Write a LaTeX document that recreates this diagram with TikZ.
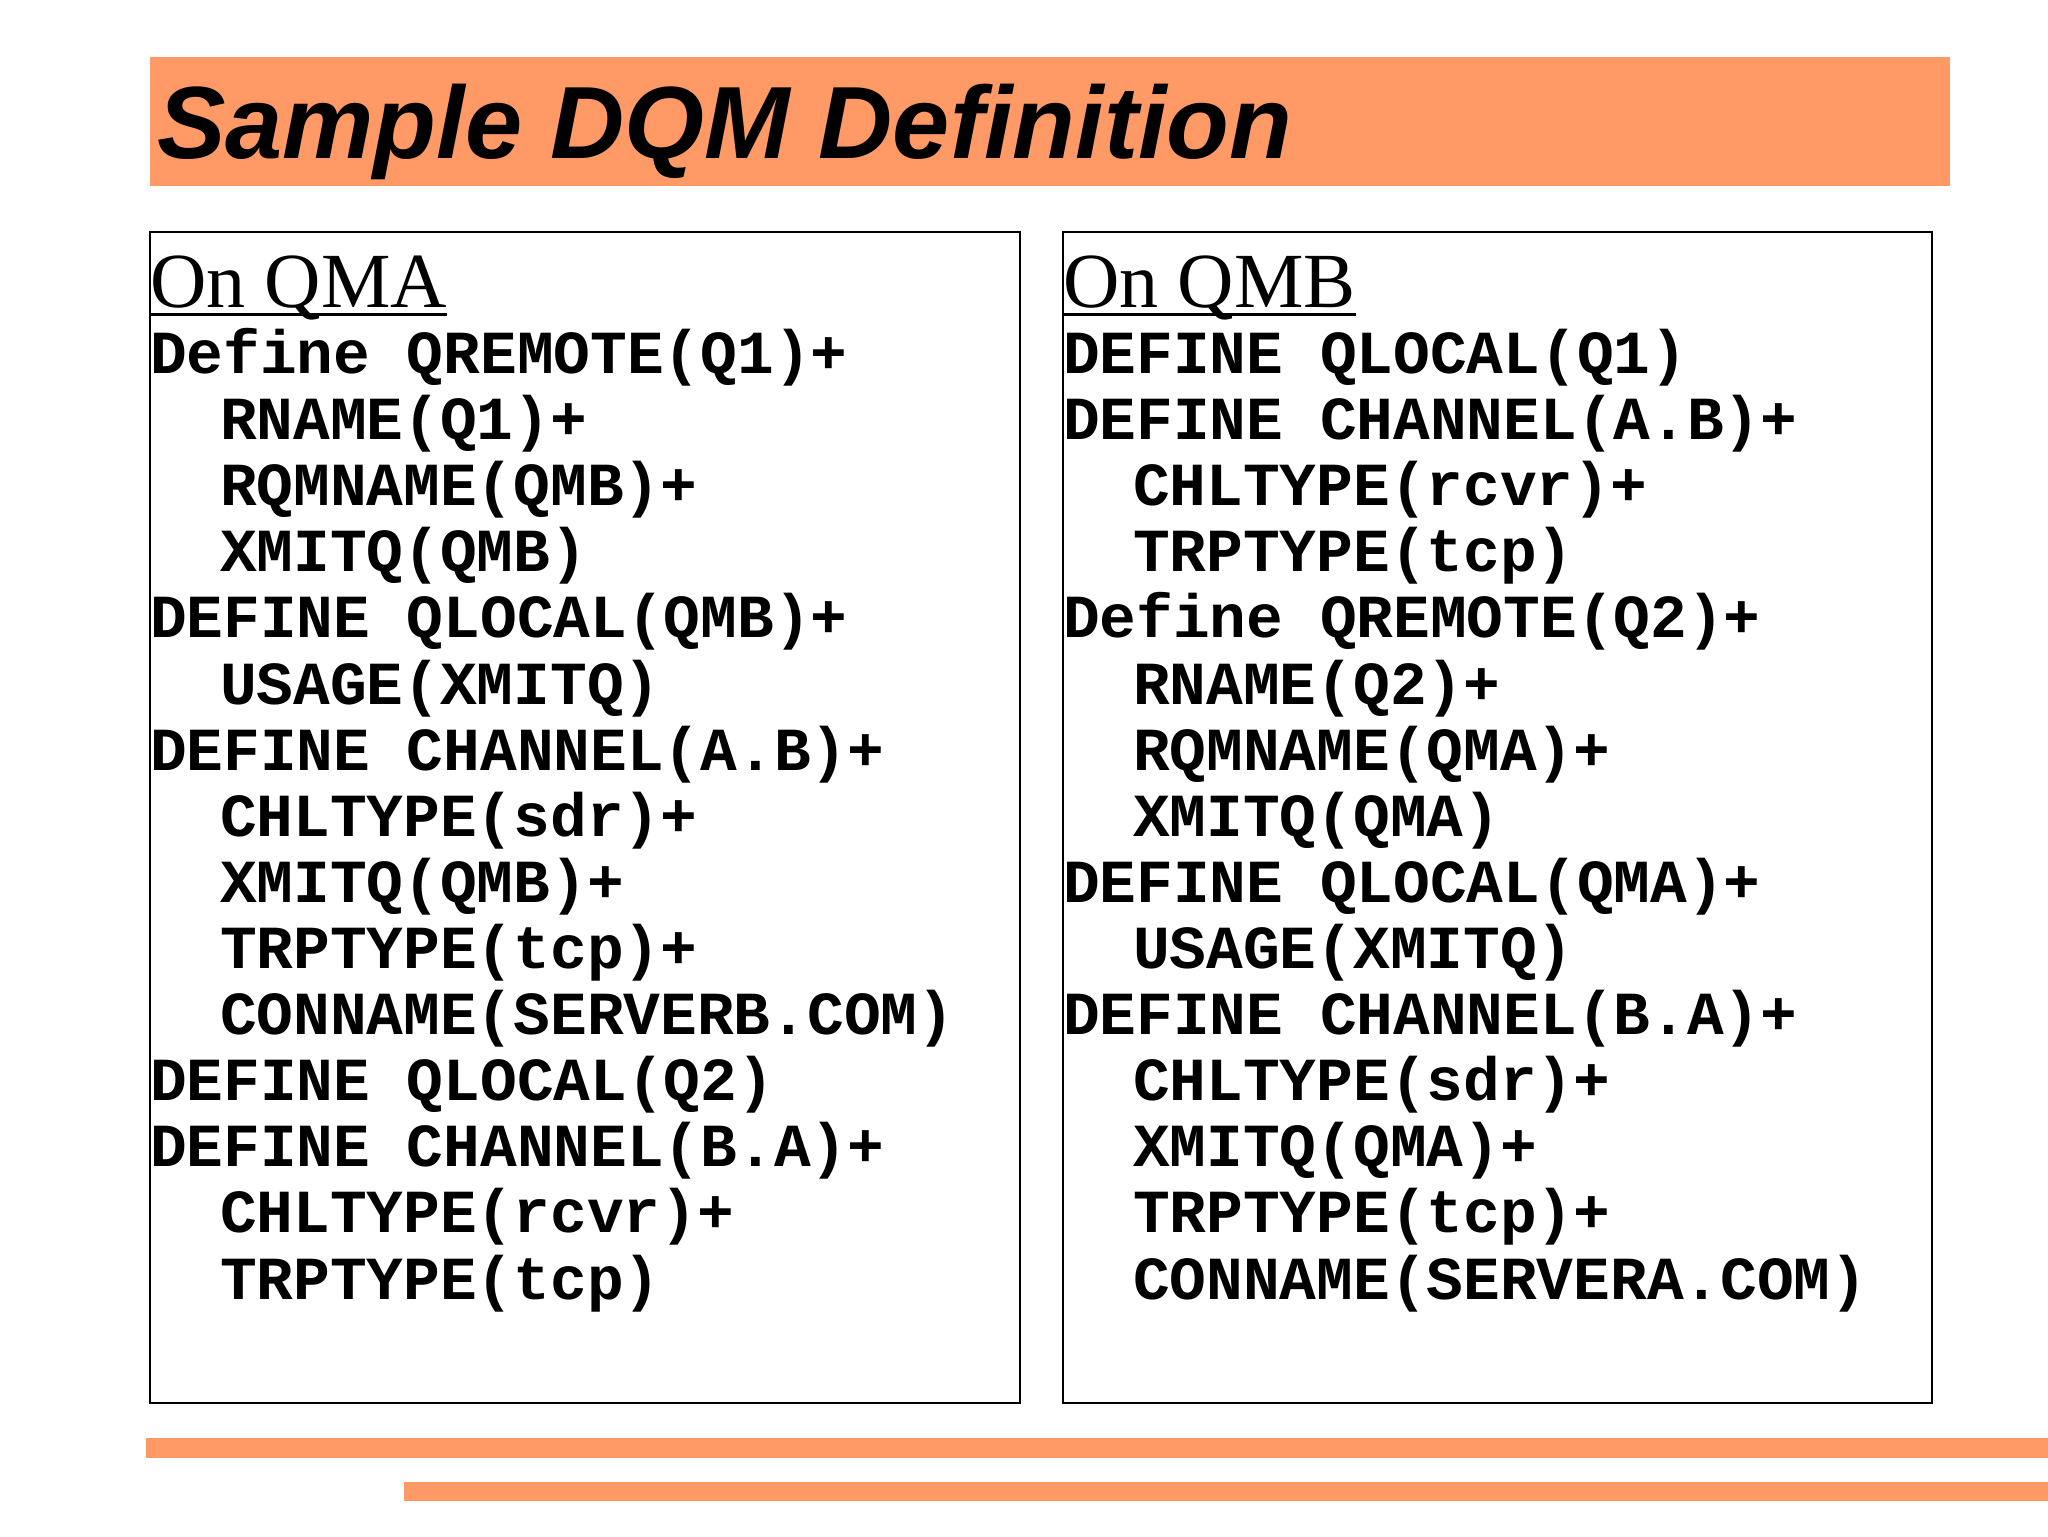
\documentclass[tikz,border=0pt]{standalone}
\usepackage{fontspec}
\setmainfont{Liberation Serif}
\newfontfamily\titlefont{Liberation Sans}
\newfontfamily\codefont{Liberation Mono}
\usetikzlibrary{calc}
\definecolor{slideorange}{RGB}{255,153,102}
\tikzset{
  codeline/.style={anchor=base west, inner sep=0pt, outer sep=0pt,
    font=\codefont\bfseries\fontsize{17.4pt}{18pt}\selectfont},
  headline/.style={anchor=base west, inner sep=0pt, outer sep=0pt,
    font=\rmfamily\fontsize{22.2pt}{24pt}\selectfont},
  titletext/.style={anchor=base west, inner sep=0pt, outer sep=0pt,
    font=\titlefont\bfseries\itshape\fontsize{29.2pt}{30pt}\selectfont},
  panel/.style={draw=black, line width=0.6pt},
  band/.style={fill=slideorange, draw=none},
  uline/.style={line width=0.85pt}
}
\begin{document}
\begin{tikzpicture}[x=0.01cm, y=-0.01cm]
\useasboundingbox (0,0) rectangle (2048,1537);
% title band
\fill[band] (150,57) rectangle (1950,186);
\node[titletext] (title) at (157,159) {Sample DQM Definition};
% panels
\draw[panel] (150,232) rectangle (1020,1403);
\draw[panel] (1063,232) rectangle (1932,1403);
% bottom bands
\fill[band] (146,1438) rectangle (2048,1458);
\fill[band] (404,1482) rectangle (2048,1501);
% left panel
\node[headline] (qa) at (150,308) {On QMA};
\draw[uline] ($(qa.base west)+(0,7)$) -- ($(qa.base east)+(0,7)$);
\def\la{150}\def\lb{220}
\node[codeline] (a1)  at (\la,373.6) {Define QREMOTE(Q1)+};
\node[codeline] (a2)  at (\lb,439.7) {RNAME(Q1)+};
\node[codeline] (a3)  at (\lb,505.8) {RQMNAME(QMB)+};
\node[codeline] (a4)  at (\lb,571.9) {XMITQ(QMB)};
\node[codeline] (a5)  at (\la,638.0) {DEFINE QLOCAL(QMB)+};
\node[codeline] (a6)  at (\lb,704.1) {USAGE(XMITQ)};
\node[codeline] (a7)  at (\la,770.2) {DEFINE CHANNEL(A.B)+};
\node[codeline] (a8)  at (\lb,836.3) {CHLTYPE(sdr)+};
\node[codeline] (a9)  at (\lb,902.4) {XMITQ(QMB)+};
\node[codeline] (a10) at (\lb,968.5) {TRPTYPE(tcp)+};
\node[codeline] (a11) at (\lb,1034.6) {CONNAME(SERVERB.COM)};
\node[codeline] (a12) at (\la,1100.7) {DEFINE QLOCAL(Q2)};
\node[codeline] (a13) at (\la,1166.8) {DEFINE CHANNEL(B.A)+};
\node[codeline] (a14) at (\lb,1232.9) {CHLTYPE(rcvr)+};
\node[codeline] (a15) at (\lb,1299.0) {TRPTYPE(tcp)};
% right panel
\node[headline] (qb) at (1063,308) {On QMB};
\draw[uline] ($(qb.base west)+(0,7)$) -- ($(qb.base east)+(0,7)$);
\def\ra{1063}\def\rb{1133}
\node[codeline] (b1)  at (\ra,373.6) {DEFINE QLOCAL(Q1)};
\node[codeline] (b2)  at (\ra,439.7) {DEFINE CHANNEL(A.B)+};
\node[codeline] (b3)  at (\rb,505.8) {CHLTYPE(rcvr)+};
\node[codeline] (b4)  at (\rb,571.9) {TRPTYPE(tcp)};
\node[codeline] (b5)  at (\ra,638.0) {Define QREMOTE(Q2)+};
\node[codeline] (b6)  at (\rb,704.1) {RNAME(Q2)+};
\node[codeline] (b7)  at (\rb,770.2) {RQMNAME(QMA)+};
\node[codeline] (b8)  at (\rb,836.3) {XMITQ(QMA)};
\node[codeline] (b9)  at (\ra,902.4) {DEFINE QLOCAL(QMA)+};
\node[codeline] (b10) at (\rb,968.5) {USAGE(XMITQ)};
\node[codeline] (b11) at (\ra,1034.6) {DEFINE CHANNEL(B.A)+};
\node[codeline] (b12) at (\rb,1100.7) {CHLTYPE(sdr)+};
\node[codeline] (b13) at (\rb,1166.8) {XMITQ(QMA)+};
\node[codeline] (b14) at (\rb,1232.9) {TRPTYPE(tcp)+};
\node[codeline] (b15) at (\rb,1299.0) {CONNAME(SERVERA.COM)};
\end{tikzpicture}
\end{document}
